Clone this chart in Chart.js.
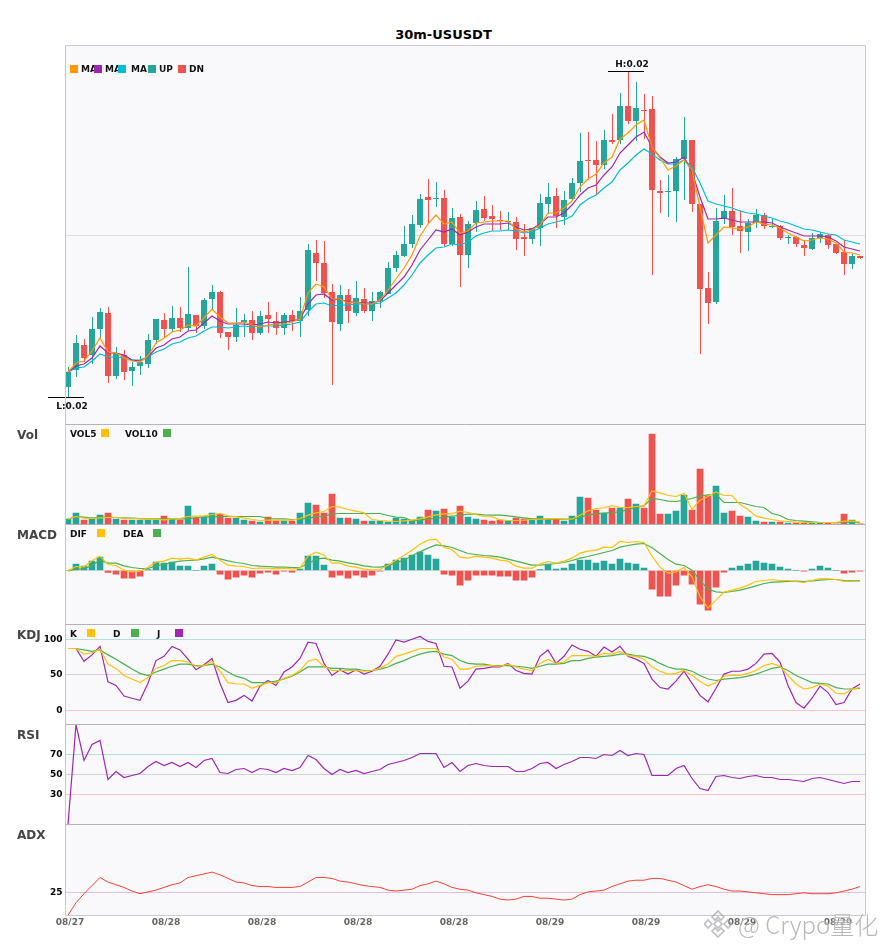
<!DOCTYPE html>
<html>
<head>
<meta charset="utf-8">
<title>30m-USUSDT</title>
<script src="https://cdn.jsdelivr.net/npm/chart.js@4"></script>
<style>
  html, body { margin: 0; background: #fff; }
  body { position: relative; width: 885px; height: 950px; overflow: hidden; font-family: "DejaVu Sans", sans-serif; }
  canvas { position: absolute; left: 0; }
  .title { position: absolute; left: 0; top: 27px; width: 887px; text-align: center; font: bold 13px/16px "DejaVu Sans"; color: #000; }
  .name { position: absolute; left: 17px; font: bold 12px/14px "DejaVu Sans"; color: #444; }
  .txt { position: absolute; font: bold 9px/11px "DejaVu Sans"; color: #111; white-space: nowrap; }
  .box { position: absolute; width: 8px; height: 8px; }
  .mark { position: absolute; left: 738px; top: 909px; font: 300 24px/30px "Noto Sans CJK SC"; color: rgba(160,160,160,.75); text-shadow: 0 0 2px #fff; white-space: nowrap; }
  .logo { position: absolute; left: 704px; top: 909px; }
</style>
</head>
<body>
<div class="title">30m-USUSDT</div>

<canvas id="mainChart"></canvas>
<canvas id="volChart"></canvas>
<canvas id="macdChart"></canvas>
<canvas id="kdjChart"></canvas>
<canvas id="rsiChart"></canvas>
<canvas id="adxChart"></canvas>

<div class="txt" style="left:81px;top:64px">MA</div>
<div class="txt" style="left:105px;top:64px">MA</div>
<div class="txt" style="left:131px;top:64px">MA</div>
<div class="txt" style="left:159px;top:64px">UP</div>
<div class="txt" style="left:189px;top:64px">DN</div>
<div class="box" style="left:70px;top:65px;background:#ff9800"></div>
<div class="box" style="left:94px;top:65px;background:#9c27b0"></div>
<div class="box" style="left:118px;top:65px;background:#00bcd4"></div>
<div class="box" style="left:148px;top:65px;background:#26a69a"></div>
<div class="box" style="left:178px;top:65px;background:#ef5350"></div>

<div class="name" style="top:428px">Vol</div>
<div class="txt" style="left:70px;top:429px">VOL5</div>
<div class="box" style="left:101px;top:429px;background:#ffc107"></div>
<div class="txt" style="left:125px;top:429px">VOL10</div>
<div class="box" style="left:163px;top:429px;background:#4caf50"></div>

<div class="name" style="top:528px">MACD</div>
<div class="txt" style="left:70px;top:529px">DIF</div>
<div class="box" style="left:97px;top:529px;background:#ffc107"></div>
<div class="txt" style="left:123px;top:529px">DEA</div>
<div class="box" style="left:153px;top:529px;background:#4caf50"></div>

<div class="name" style="top:628px">KDJ</div>
<div class="txt" style="left:70px;top:629px">K</div>
<div class="box" style="left:87px;top:629px;background:#ffc107"></div>
<div class="txt" style="left:113px;top:629px">D</div>
<div class="box" style="left:131px;top:629px;background:#4caf50"></div>
<div class="txt" style="left:157px;top:629px">J</div>
<div class="box" style="left:175px;top:629px;background:#9c27b0"></div>

<div class="name" style="top:728px">RSI</div>
<div class="name" style="top:828px">ADX</div>

<svg class="logo" width="28" height="30" viewBox="0 0 28 30" fill="none" stroke="rgba(170,170,170,.75)" stroke-width="1.6">
  <path d="M14 2 L20 8 L17 11 L14 8 L11 11 L8 8 Z"/>
  <path d="M14 28 L20 22 L17 19 L14 22 L11 19 L8 22 Z"/>
  <path d="M4 11 L8 15 L4 19 L0.5 15 Z"/>
  <path d="M24 11 L27.5 15 L24 19 L20 15 Z"/>
  <path d="M14 11 L18 15 L14 19 L10 15 Z"/>
</svg>
<div class="mark">@ Crypo量化</div>

<script>
// prices are in units of 0.00001 USDT
const PRICE_UNIT = 0.00001;
const UP_COLOR = '#26a69a';
const DN_COLOR = '#ef5350';

const dateLabels = ['08/27', '08/28', '08/28', '08/28', '08/28', '08/29', '08/29', '08/29', '08/29'];

const opens = [1648,1665,1690,1680,1706,1722,1659,1680,1664,1669,1671,1695,1715,1706,1717,1707,1720,1709,1736,1743,
  1703,1698,1713,1715,1702,1720,1714,1707,1720,1714,1725,1782,1772,1743,1711,1740,1722,1736,1724,1734,
  1741,1767,1779,1791,1810,1838,1836,1837,1791,1818,1780,1812,1826,1819,1815,1813,1813,1798,1796,1807,
  1831,1839,1818,1836,1852,1875,1875,1870,1895,1895,1929,1914,1925,1926,1844,1843,1844,1876,1895,1831,
  1747,1733,1816,1824,1809,1803,1812,1820,1808,1809,1797,1798,1790,1786,1797,1800,1791,1783,1771,1779];
const closes = [1663,1692,1677,1706,1723,1659,1682,1663,1668,1673,1695,1716,1706,1717,1707,1721,1709,1735,1743,1702,
  1698,1710,1715,1702,1719,1716,1707,1720,1714,1724,1785,1772,1742,1713,1740,1724,1737,1724,1734,1743,
  1767,1780,1791,1811,1836,1835,1837,1791,1817,1780,1811,1825,1817,1816,1814,1814,1796,1796,1807,1832,
  1838,1819,1835,1852,1874,1874,1870,1895,1893,1929,1914,1927,1924,1845,1842,1844,1876,1895,1831,1746,
  1732,1814,1824,1808,1804,1812,1820,1809,1809,1797,1798,1791,1787,1797,1801,1790,1782,1771,1779,1777];
const highs = [1668,1700,1696,1718,1727,1728,1688,1685,1673,1679,1701,1716,1722,1729,1728,1768,1720,1737,1750,1744,
  1703,1727,1721,1724,1724,1733,1723,1722,1725,1738,1791,1795,1794,1751,1750,1746,1754,1747,1743,1744,
  1773,1784,1809,1820,1841,1856,1853,1845,1827,1821,1814,1834,1839,1830,1824,1823,1818,1811,1807,1841,
  1852,1847,1844,1857,1902,1903,1894,1905,1921,1942,1963,1953,1941,1939,1855,1860,1878,1918,1895,1831,
  1763,1827,1840,1847,1825,1816,1826,1822,1816,1810,1800,1799,1795,1802,1803,1801,1792,1795,1781,1779];
const lows = [1637,1658,1673,1671,1697,1652,1656,1655,1649,1660,1667,1691,1697,1703,1703,1704,1702,1706,1725,1697,
  1685,1693,1698,1695,1700,1702,1700,1700,1704,1698,1719,1754,1737,1650,1704,1712,1719,1722,1714,1727,
  1741,1763,1778,1787,1807,1811,1828,1789,1789,1748,1767,1803,1814,1804,1805,1805,1785,1779,1791,1789,
  1821,1807,1810,1834,1843,1855,1841,1866,1891,1891,1911,1894,1896,1760,1822,1818,1813,1835,1823,1681,
  1711,1731,1811,1800,1782,1784,1807,1806,1807,1795,1791,1788,1779,1785,1792,1786,1781,1760,1766,1776];

const ma5 = [1663,1672,1674,1684,1697,1683,1682,1677,1674,1673,1679,1692,1697,1703,1705,1710,1709,1717,1726,1718,
  1712,1712,1713,1710,1708,1710,1711,1711,1713,1716,1742,1751,1748,1736,1736,1732,1733,1731,1731,1735,
  1745,1756,1767,1780,1799,1811,1820,1811,1813,1802,1804,1812,1813,1814,1814,1814,1806,1803,1805,1810,
  1822,1822,1827,1834,1848,1856,1861,1872,1878,1896,1902,1910,1915,1888,1877,1865,1869,1875,1865,1828,
  1792,1800,1808,1807,1806,1808,1813,1811,1810,1807,1802,1798,1794,1795,1797,1796,1792,1783,1782,1780];
const ma10 = [1663,1669,1671,1677,1689,1682,1682,1680,1675,1674,1678,1687,1690,1696,1698,1704,1705,1712,1719,1714,
  1711,1711,1711,1710,1711,1713,1712,1713,1714,1716,1731,1740,1741,1735,1736,1733,1733,1732,1732,1734,
  1742,1750,1758,1770,1785,1795,1805,1803,1806,1800,1803,1808,1811,1811,1811,1812,1808,1805,1806,1811,
  1818,1818,1822,1830,1840,1847,1850,1860,1868,1882,1890,1898,1903,1888,1878,1872,1873,1878,1863,1838,
  1816,1816,1817,1815,1813,1813,1813,1813,1812,1808,1805,1802,1799,1799,1799,1798,1794,1788,1786,1784];
const ma20 = [1663,1667,1668,1674,1681,1678,1678,1677,1675,1675,1678,1683,1686,1691,1693,1697,1699,1704,1708,1708,
  1707,1708,1709,1708,1709,1709,1709,1710,1711,1713,1723,1731,1732,1729,1730,1730,1731,1731,1731,1732,
  1737,1742,1750,1760,1772,1780,1787,1788,1791,1790,1793,1799,1802,1804,1804,1805,1804,1802,1803,1807,
  1811,1813,1815,1819,1830,1836,1840,1847,1853,1865,1872,1880,1886,1881,1875,1871,1871,1875,1868,1852,
  1834,1831,1829,1827,1824,1822,1821,1819,1817,1814,1812,1809,1806,1805,1803,1801,1800,1795,1793,1791];

const volumes = [16,34,13,19,28,34,16,13,13,13,13,13,25,16,13,55,19,22,34,31,
  19,19,13,10,7,22,10,10,10,34,64,58,34,91,19,19,16,10,10,10,
  7,19,16,13,22,43,40,46,22,55,22,16,13,10,13,10,19,16,16,25,
  16,16,10,25,82,79,43,34,49,49,76,61,49,271,31,31,40,88,43,166,
  85,115,34,40,25,22,10,7,7,7,4,4,4,4,4,4,2,31,13,2];
const vol5 = [16,24,19,18,20,21,21,19,18,17,16,16,14,17,18,24,25,26,30,33,
  26,23,20,15,12,13,13,13,13,18,28,35,39,54,52,45,40,35,15,12,
  10,9,11,13,17,23,29,32,32,40,36,30,24,23,14,12,12,13,15,16,
  17,18,17,16,28,41,48,50,57,51,51,54,56,101,95,87,84,93,45,73,
  84,98,87,87,60,45,25,19,15,11,9,7,6,6,6,6,6,10,10,7];
const vol10 = [16,24,22,19,21,22,21,20,19,18,17,17,17,17,17,17,21,23,23,24,
  24,24,24,24,24,18,17,17,15,15,19,23,24,32,33,33,33,33,33,33,
  27,22,21,11,13,16,18,22,25,27,31,31,29,28,28,26,23,20,17,17,
  16,16,16,15,22,29,32,34,36,38,45,51,56,79,75,70,69,73,78,86,
  89,90,66,66,66,60,54,51,33,27,15,12,10,8,6,6,6,7,7,6];

const macdHist = [0,19,13,28,40,-6,-11,-23,-23,-17,3,25,22,25,13,13,0,13,19,-11,
  -26,-20,-14,-20,-8,-5,-11,-2,-5,4,43,43,16,-20,-14,-23,-14,-20,-14,-2,
  19,31,37,46,55,46,34,-11,-14,-44,-29,-14,-14,-14,-17,-17,-29,-29,-20,3,
  19,4,7,19,31,31,22,28,19,34,22,19,7,-56,-77,-77,-44,-14,-41,-101,
  -119,-50,-5,7,13,19,28,22,19,10,4,0,-2,4,13,7,0,-8,-5,-2];
const dif = [-1,12,11,29,43,18,15,1,-4,-2,10,25,28,37,34,37,31,40,48,31,
  16,13,12,6,7,7,5,7,5,7,43,55,46,22,22,13,10,4,2,3,
  16,31,46,61,79,91,94,69,63,40,37,43,40,37,31,28,13,7,7,19,
  27,22,28,37,52,58,61,70,69,87,84,87,84,43,10,-8,-4,9,-19,-79,
  -113,-89,-65,-59,-53,-44,-33,-30,-27,-30,-30,-33,-36,-30,-24,-25,-27,-33,-33,-33];
const dea = [-1,4,5,15,31,22,22,14,9,6,6,14,18,24,28,30,31,35,40,35,
  29,24,21,15,13,12,10,10,9,9,20,34,37,31,28,23,19,14,11,10,
  15,23,31,44,56,67,77,74,69,60,51,48,45,43,40,34,28,22,16,16,
  18,21,24,30,37,42,48,54,60,70,75,79,81,68,51,33,19,15,1,-29,
  -56,-64,-66,-63,-59,-53,-46,-39,-35,-34,-33,-32,-33,-31,-29,-27,-27,-30,-31,-31];

const kLine = [87,87,79,81,86,65,59,49,44,39,46,59,63,70,70,68,62,63,69,55,
  39,37,37,31,35,39,39,45,49,56,69,72,62,56,56,56,56,55,56,59,
  65,76,79,83,87,87,87,75,72,58,58,62,63,63,62,65,61,58,56,66,
  72,66,68,77,77,77,76,80,79,83,77,76,72,61,55,51,52,56,49,41,
  34,39,48,49,49,52,56,63,66,62,49,37,30,32,37,34,24,23,30,32];
const dLine = [87,87,85,83,85,78,72,65,58,52,49,54,58,62,65,65,63,63,65,61,
  54,48,45,39,39,39,41,44,48,54,61,61,61,59,59,58,58,56,56,58,
  61,66,70,75,79,82,83,79,77,70,66,65,65,63,63,63,62,61,59,62,
  65,65,66,70,70,73,75,76,77,79,79,77,76,72,66,61,58,58,55,49,
  44,42,44,45,46,48,51,55,59,61,56,49,44,39,38,37,32,30,30,31];
const jLine = [87,87,69,78,90,40,35,20,17,14,38,70,76,90,85,72,57,64,73,38,
  11,14,21,13,34,42,35,54,61,73,96,94,66,49,57,51,57,51,55,62,
  79,99,96,100,104,97,94,62,61,31,41,58,59,61,61,66,56,52,51,76,
  85,66,76,92,86,83,76,89,82,90,76,72,66,44,32,30,41,55,38,21,
  12,31,51,55,55,58,66,79,80,68,35,11,3,17,34,25,8,11,30,37];

const rsiLine = [0,100,64,80,84,45,53,47,49,51,58,63,59,62,58,62,57,64,66,52,
  51,55,56,52,56,55,52,56,54,57,69,65,56,50,55,52,54,51,53,55,
  60,62,64,67,71,71,71,57,62,53,59,61,59,58,58,58,53,53,56,61,
  62,56,60,63,67,67,66,70,69,74,69,71,70,49,49,49,56,59,46,36,
  34,48,49,47,46,48,49,47,47,45,45,44,43,46,47,45,43,41,43,43];
const adxLine = [0,14,24,33,42,37,34,31,27,24,26,28,31,34,36,42,44,46,48,45,
  41,37,36,33,32,32,31,31,31,32,37,42,42,41,38,37,35,33,32,31,
  28,27,28,29,33,35,38,35,31,29,28,25,23,21,18,17,18,21,21,19,
  19,18,17,18,23,26,27,28,32,35,38,39,39,41,41,39,37,33,29,32,
  34,32,29,27,27,26,25,24,23,23,23,24,25,24,24,24,25,27,29,32];

const mainLevels = [1800];
const macdLevels = [0];
const kdjLevels = [100, 50, 0];
const rsiLevels = [70, 50, 30];
const adxLevels = [25];

const points = values => values.map((y, x) => ({ x, y }));
const candleColors = opens.map((o, i) => (closes[i] >= o ? UP_COLOR : DN_COLOR));
// volume bars carry the colour of the candle, MACD bars the sign of the value
const macdColors = macdHist.map(v => (v >= 0 ? UP_COLOR : DN_COLOR));

function line(values, color, width = 1.2) {
  return { type: 'line', data: points(values), borderColor: color, borderWidth: width, pointRadius: 0, tension: 0, order: 0 };
}

function bars(values, colors) {
  return { type: 'bar', data: points(values), backgroundColor: colors, barThickness: 6, grouped: false, order: 1 };
}

// panel background and frame
const framePlugin = {
  id: 'frame',
  beforeDraw(chart, args, opts) {
    const { ctx, chartArea: a } = chart;
    ctx.save();
    ctx.fillStyle = '#f9f9fc';
    ctx.fillRect(a.left, a.top, a.right - a.left, a.bottom - a.top);
    ctx.restore();
  },
  afterDraw(chart, args, opts) {
    const { ctx, chartArea: a } = chart;
    ctx.save();
    ctx.lineWidth = 1;
    ctx.strokeStyle = '#c8c8d2';
    ctx.beginPath();
    ctx.moveTo(a.left, a.top);
    ctx.lineTo(a.left, a.bottom);
    ctx.moveTo(a.right, a.top);
    ctx.lineTo(a.right, a.bottom);
    if (opts.closeBottom) {
      ctx.moveTo(a.left, a.bottom);
      ctx.lineTo(a.right, a.bottom);
    }
    ctx.stroke();
    ctx.strokeStyle = opts.topColor;
    ctx.beginPath();
    ctx.moveTo(a.left, a.top);
    ctx.lineTo(a.right, a.top);
    ctx.stroke();
    ctx.restore();
  }
};

// H: and L: markers on the extreme candles
const extremesPlugin = {
  id: 'extremes',
  afterDatasetsDraw(chart) {
    const { ctx, scales: { x, y } } = chart;
    const hi = highs.indexOf(Math.max(...highs));
    const lo = lows.indexOf(Math.min(...lows));
    const mark = (index, value, prefix, textDy) => {
      const px = x.getPixelForValue(index);
      const py = Math.round(y.getPixelForValue(value));
      ctx.strokeStyle = '#000';
      ctx.lineWidth = 1.2;
      ctx.beginPath();
      ctx.moveTo(px - 20, py - 0.5);
      ctx.lineTo(px + 16, py - 0.5);
      ctx.stroke();
      ctx.fillStyle = '#111';
      ctx.font = 'bold 9px "DejaVu Sans"';
      ctx.textAlign = 'center';
      ctx.textBaseline = 'middle';
      ctx.fillText(prefix + ':' + (value * PRICE_UNIT).toFixed(2), px + 4, py + textDy);
    };
    ctx.save();
    mark(hi, highs[hi], 'H', -7);
    mark(lo, lows[lo], 'L', 9);
    ctx.restore();
  }
};

function panel(id, top, areaHeight, datasets, yOpts, levelColors, frame, plugins, showDates) {
  const canvas = document.getElementById(id);
  const extra = showDates ? 20.5 : 0.5;
  canvas.width = 885;
  canvas.height = areaHeight + 0.5 + extra;
  canvas.style.top = top + 'px';
  return new Chart(canvas, {
    type: 'bar',
    data: { datasets },
    options: {
      responsive: false,
      animation: false,
      layout: { padding: { top: 0.5, right: 19.5, bottom: showDates ? 0 : 0.5, left: 0 } },
      plugins: { legend: { display: false }, tooltip: { enabled: false }, frame },
      scales: {
        x: {
          type: 'linear',
          display: !!showDates,
          offset: false,
          min: -0.3125,
          max: 99.6875,
          grid: { display: false, offset: false, drawTicks: false },
          border: { display: false },
          afterFit: s => {
            s.height = showDates ? 20.5 : 0;
            s.paddingLeft = 0;
            s.paddingRight = 0;
          },
          ticks: {
            stepSize: 12,
            includeBounds: false,
            autoSkip: false,
            maxRotation: 0,
            padding: 2,
            labelOffset: 2,
            color: '#666',
            font: { family: 'DejaVu Sans', size: 9, weight: 'bold' },
            callback: v => dateLabels[v / 12]
          }
        },
        y: {
          min: yOpts.min,
          max: yOpts.max,
          border: { display: false },
          afterFit: s => {
            s.width = 65.5;
            s.paddingTop = 0;
            s.paddingBottom = 0;
          },
          afterBuildTicks: s => { s.ticks = yOpts.levels.map(value => ({ value })); },
          grid: {
            drawTicks: false,
            color: c => levelColors[yOpts.levels.indexOf(c.tick.value)] || 'transparent'
          },
          ticks: {
            display: !!yOpts.labels,
            padding: 3,
            color: '#000',
            font: { family: 'DejaVu Sans', size: 9, weight: 'bold' }
          }
        }
      }
    },
    plugins: [framePlugin].concat(plugins || [])
  });
}

const SEPARATOR = '#b2b2ba';

panel('mainChart', 45, 379, [
  line(ma5, '#ff9800'),
  line(ma10, '#9c27b0'),
  line(ma20, '#00bcd4'),
  Object.assign(bars(opens.map((o, i) => [o, closes[i]]), candleColors), { inflateAmount: 0, order: 1 }),
  // wicks sit on the pixel right of the body centre
  { type: 'bar', data: lows.map((l, i) => ({ x: i + 0.0625, y: [l, highs[i]] })), backgroundColor: candleColors, barThickness: 1, grouped: false, inflateAmount: 0, order: 2 }
], { min: 1610.5, max: 1989.5, levels: mainLevels }, ['#dedbe4'], { topColor: '#ccccd6' }, [extremesPlugin]);

panel('volChart', 424, 100, [
  line(vol5, '#ffc107'),
  line(vol10, '#4caf50'),
  bars(volumes, candleColors)
], { min: 0, max: 300, levels: [] }, [], { topColor: SEPARATOR });

panel('macdChart', 524, 100, [
  line(dif, '#ffc107'),
  line(dea, '#4caf50'),
  bars(macdHist, macdColors)
], { min: -162, max: 138, levels: macdLevels }, ['#dddddd'], { topColor: SEPARATOR });

panel('kdjChart', 624, 100, [
  line(kLine, '#ffc107'),
  line(dLine, '#4caf50'),
  line(jLine, '#9c27b0')
], { min: -20, max: 120.8, levels: kdjLevels, labels: true }, ['#b2dfdb', '#d3d3d3', '#ffc4c4'], { topColor: SEPARATOR });

panel('rsiChart', 724, 100, [
  line(rsiLine, '#9c27b0')
], { min: 0, max: 100, levels: rsiLevels, labels: true }, ['#b2dfdb', '#d3d3d3', '#ffc4c4'], { topColor: SEPARATOR });

panel('adxChart', 824, 91, [
  line(adxLine, '#f44336', 1)
], { min: -0.2, max: 100.9, levels: adxLevels, labels: true }, ['#e1bee7'], { topColor: SEPARATOR, closeBottom: true }, null, true);
</script>
</body>
</html>
